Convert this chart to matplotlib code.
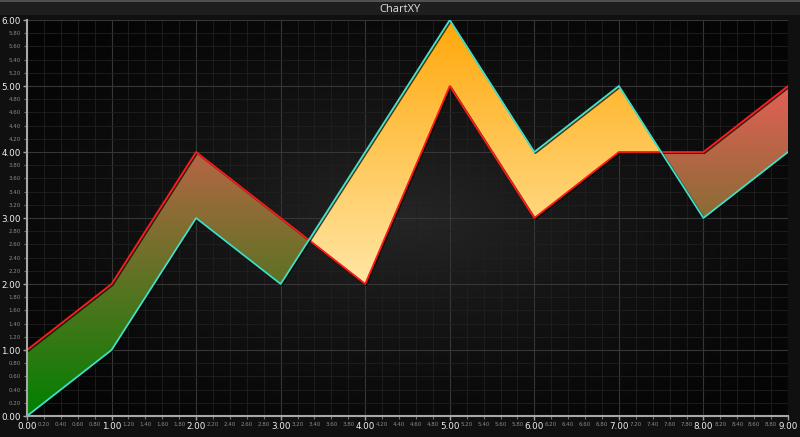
import numpy as np
import matplotlib
matplotlib.use('Agg')
import matplotlib.pyplot as plt
import matplotlib.patheffects as pe
from matplotlib.path import Path
from matplotlib.patches import PathPatch, Rectangle

# data
x_vals = [0, 1, 2, 3, 4, 5, 6, 7, 8, 9]
cyan_vals = [0, 1, 3, 2, 4, 6, 4, 5, 3, 4]
red_vals = [1, 2, 4, 3, 2, 5, 3, 4, 4, 5]
title = 'ChartXY'

W, H = 800, 437
fig = plt.figure(figsize=(8, 4.37), dpi=100, facecolor='#101010')

# header bar
fig.patches.append(Rectangle((0, 1 - 15 / H), 1, 15 / H, transform=fig.transFigure,
                             facecolor='#1e1e1e', edgecolor='none', zorder=-1))
fig.patches.append(Rectangle((0, 1 - 2 / H), 1, 2 / H, transform=fig.transFigure,
                             facecolor='#505050', edgecolor='none', zorder=-1))
fig.text(0.5, 1 - 10 / H, title, color='#e0e0e0', fontsize=8, ha='center', va='center',
         family='Open Sans')

ax = fig.add_axes([27 / W, 21 / H, (788 - 27) / W, (416 - 20) / H])
ax.set_facecolor('black')

# radial background of the plot area
gx, gy = np.meshgrid(np.linspace(-1, 1, 300), np.linspace(-1, 1, 200))
r = np.clip(np.sqrt(gx ** 2 + gy ** 2) / np.sqrt(2), 0, 1)
v = (34 * (1 - r) ** 1.5 + 4) / 255
bg = np.dstack([v, v, v])
ax.imshow(bg, extent=[0, 9, 0, 6], origin='lower', aspect='auto', zorder=0,
          interpolation='bilinear')

# fill regions between the two lines
xs = np.array(x_vals, float)
ca = np.array(cyan_vals, float)
ra = np.array(red_vals, float)
low = ax.fill_between(xs, ra, ca, where=ra >= ca, interpolate=True,
                      facecolor='none', edgecolor='none')
high = ax.fill_between(xs, ra, ca, where=ca >= ra, interpolate=True,
                       facecolor='none', edgecolor='none')


def gradient(c0, c1, y0, y1):
    ys = np.linspace(0, 6, 300)
    t = np.clip((ys - y0) / (y1 - y0), 0, 1)[:, None]
    c0 = np.array(c0) / 255
    c1 = np.array(c1) / 255
    return (c0 * (1 - t) + c1 * t)[:, None, :]


for coll, grad in [(low, gradient((0, 128, 0), (232, 95, 88), 0, 5.1)),
                   (high, gradient((255, 230, 165), (255, 168, 10), 2, 6))]:
    path = Path.make_compound_path(*coll.get_paths())
    patch = PathPatch(path, transform=ax.transData, facecolor='none', edgecolor='none')
    ax.add_patch(patch)
    im = ax.imshow(grad, extent=[0, 9, 0, 6], origin='lower', aspect='auto', zorder=2,
                   interpolation='bilinear')
    im.set_clip_path(patch)

shadow = [pe.SimpleLineShadow(offset=(0.8, -0.8), shadow_color='black', alpha=0.7), pe.Normal()]
ax.plot(xs, ra, color='#ff1a1a', lw=1.3, zorder=3, path_effects=shadow)
ax.plot(xs, ca, color='#3fe0cc', lw=1.3, zorder=4, path_effects=shadow)

ax.set_xlim(0, 9)
ax.set_ylim(0, 6)

# ticks
x_major = np.arange(0, 10)
x_minor = [v for v in np.round(np.arange(0, 9.01, 0.2), 2) if abs(v - round(v)) > 1e-6]
y_major = np.arange(0, 7)
y_minor = [v for v in np.round(np.arange(0, 6.01, 0.2), 2) if abs(v - round(v)) > 1e-6]
ax.set_xticks(x_major, ['%.2f' % v for v in x_major])
ax.set_xticks(x_minor, ['%.2f' % v for v in x_minor], minor=True)
ax.set_yticks(y_major, ['%.2f' % v for v in y_major])
ax.set_yticks(y_minor, ['%.2f' % v for v in y_minor], minor=True)

ax.tick_params(which='major', colors='#a0a0a0', labelcolor='#f0f0f0', labelsize=6.3,
               length=3, width=1, pad=1.5)
ax.tick_params(which='minor', colors='#707070', labelcolor='#8a8a8a', labelsize=4,
               length=2, width=0.8, pad=2.5)

ax.grid(which='major', color='#363636', lw=0.8, zorder=1)
ax.grid(which='minor', color='#202020', lw=0.6, zorder=1)
ax.set_axisbelow(True)

for s in ['top', 'right']:
    ax.spines[s].set_visible(False)
for s in ['left', 'bottom']:
    ax.spines[s].set_color('#a8a8a8')
    ax.spines[s].set_linewidth(1.5)
    ax.spines[s].set_zorder(5)

fig.savefig('out.png', dpi=100, facecolor=fig.get_facecolor())
